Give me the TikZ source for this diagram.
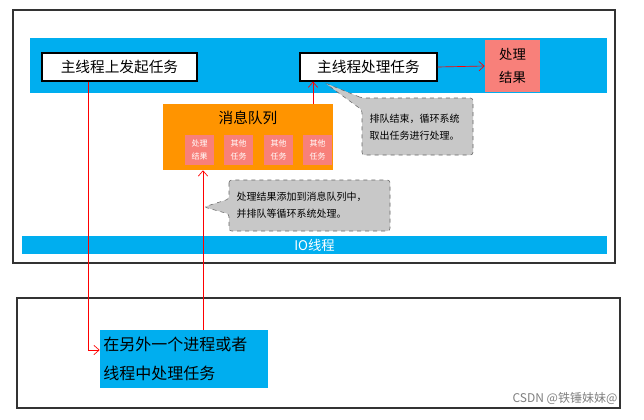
\documentclass[tikz,border=0pt]{standalone}
\usepackage{fontspec}
\setmainfont{Noto Sans CJK SC}
\usetikzlibrary{arrows.meta}
\definecolor{bl}{HTML}{00AEEF}
\definecolor{pk}{HTML}{F8807A}
\definecolor{og}{HTML}{FF9400}
\definecolor{gr}{HTML}{C8C8C8}
\tikzset{
 wbox/.style={draw=black,fill=white,line width=0.8pt,font=\fontsize{11}{13}\selectfont,inner sep=4pt},
 rarr/.style={draw=red,line width=0.5pt,-{Straight Barb[length=4pt,width=7pt]}},
 callout/.style={draw=gray!80!black,dashed,fill=gr,rounded corners=2pt},
 ctext/.style={font=\fontsize{7.5}{13}\selectfont,align=left,anchor=west},
}
\begin{document}
\begin{tikzpicture}[x=0.75pt,y=-0.75pt]
\useasboundingbox (0,0) rectangle (644,419);
\fill[white] (0,0) rectangle (644,419);
\draw[line width=1.2pt,black!80] (13,10) rectangle (615,263);
\draw[line width=1.2pt,black!80] (17,298) rectangle (620,408);
\fill[bl] (30,38) rectangle (607,93);
\node[wbox,minimum width=155*0.75pt,minimum height=28*0.75pt] (start) at (119.5,67) {主线程上发起任务};
\node[wbox,minimum width=137*0.75pt,minimum height=28*0.75pt] (proc) at (368.5,67) {主线程处理任务};
\node[fill=pk,minimum width=55*0.75pt,minimum height=52*0.75pt,align=center,font=\fontsize{10}{17}\selectfont] (res) at (512.5,66) {处理\\结果};
\draw[rarr] (proc.east) -- (res.west);
\node[fill=og,minimum width=170*0.75pt,minimum height=66*0.75pt] (mq) at (248,137) {};
\node[font=\fontsize{11}{13}\selectfont] (mqt) at (248,118) {消息队列};
\tikzset{sb/.style={fill=pk,text=white,minimum width=29*0.75pt,minimum height=30*0.75pt,inner sep=0pt,align=center,font=\fontsize{6}{10}\selectfont}}
\node[sb] (q1) at (199.5,150) {处理\\结果};
\node[sb] (q2) at (238.5,150) {其他\\任务};
\node[sb] (q3) at (278.5,150) {其他\\任务};
\node[sb] (q4) at (317.5,150) {其他\\任务};
\coordinate (mqtop) at (313,104);
\draw[rarr] (mqtop) -- (proc.south -| mqtop);
\draw[callout] (362,98) -- (325,83) -- (362,110) -- (362,155) -- (473,155) -- (473,98) -- cycle;
\node[ctext] (c1) at (365,127) {排队结束，循环系统\\取出任务进行处理。};
\draw[callout] (229,180) -- (229,199) -- (204,207) -- (229,214) -- (229,231) -- (390,231) -- (390,180) -- cycle;
\node[ctext] (c2) at (232,205) {处理结果添加到消息队列中，\\并排队等循环系统处理。};
\node[fill=bl,text=white,minimum width=585*0.75pt,minimum height=18*0.75pt,inner sep=0pt,font=\fontsize{10}{12}\selectfont] (io) at (314.5,245) {IO线程};
\node[fill=bl,minimum width=168*0.75pt,minimum height=58*0.75pt,inner sep=0pt] (other) at (184,359) {};
\node[anchor=west,align=left,font=\fontsize{12}{22}\selectfont,inner sep=0pt] (ot) at (103,359) {在另外一个进程或者\\线程中处理任务};
\coordinate (bend) at (88,350);
\draw[rarr] (start.south -| bend) -- (bend) -- (other.west |- bend);
\coordinate (up) at (203,330);
\draw[rarr] (up) -- (mq.south -| up);
\node[text=gray,font=\fontsize{9}{11}\selectfont] (wm) at (565,398) {CSDN @铁锤妹妹@};
\end{tikzpicture}
\end{document}
